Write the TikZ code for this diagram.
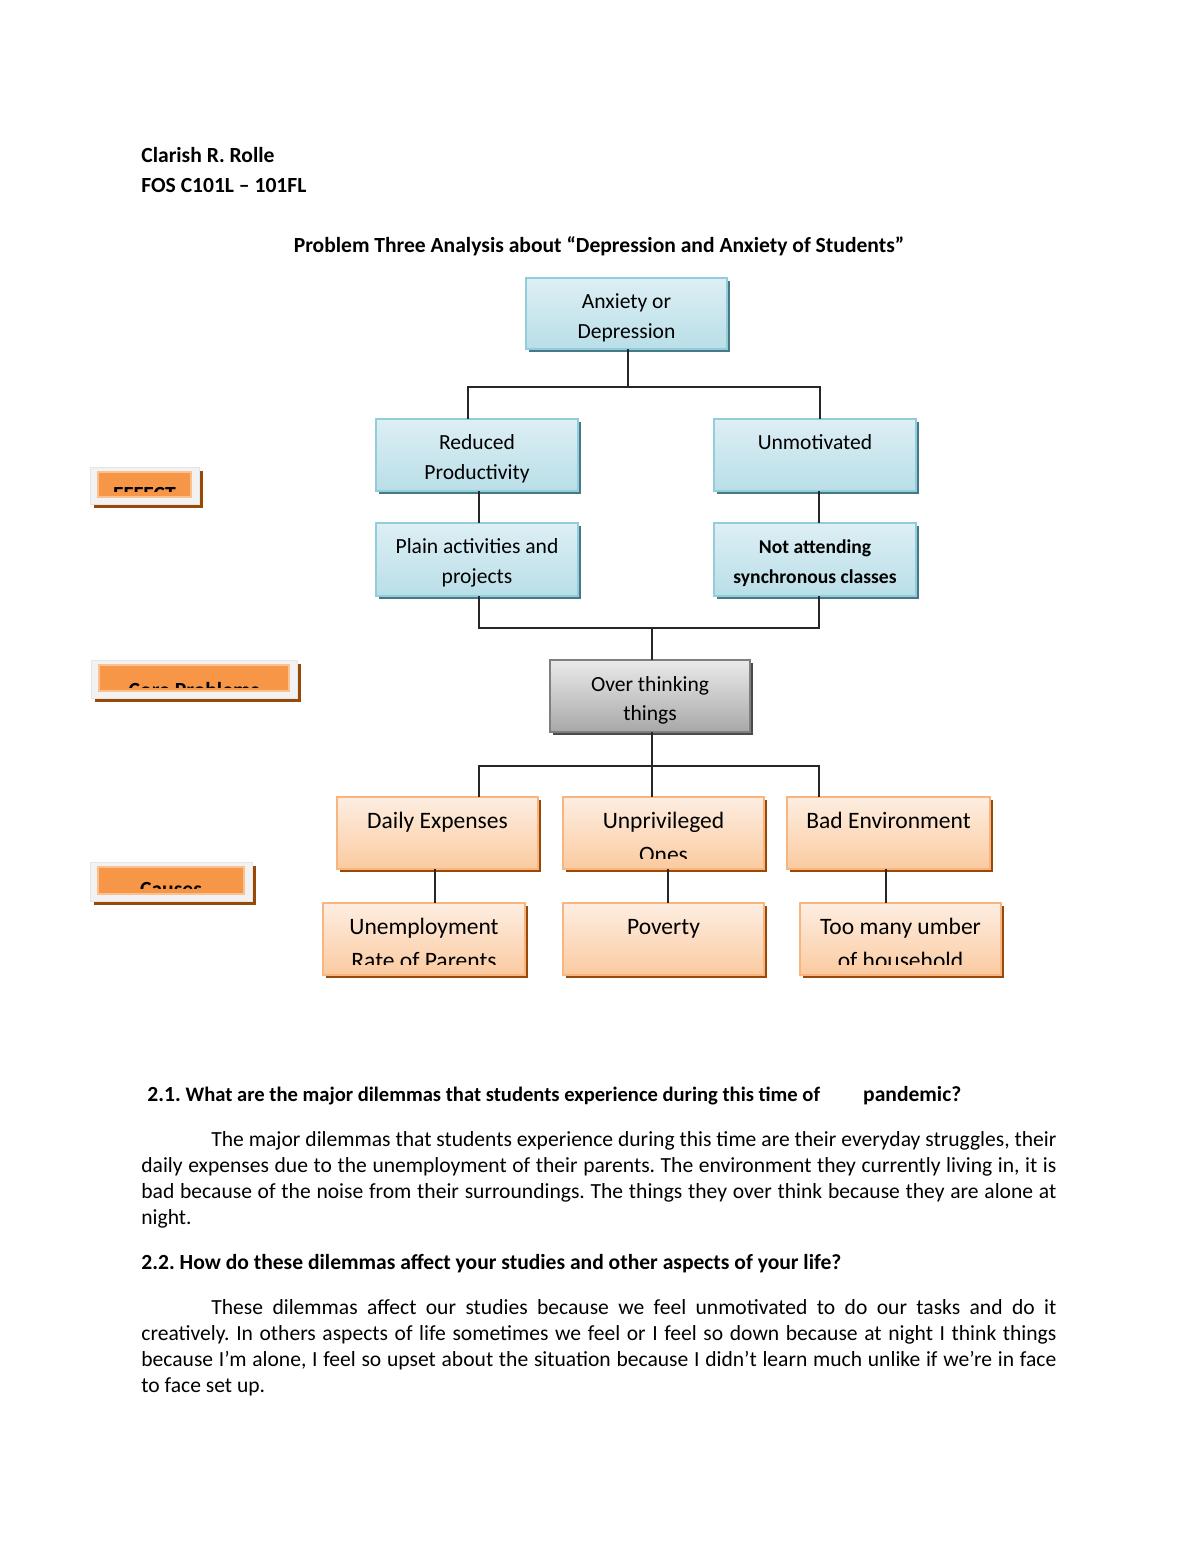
\documentclass[tikz,border=0pt]{standalone}
\usepackage{fontspec}
\setmainfont{Carlito}
\usetikzlibrary{calc}
\frenchspacing
\definecolor{blueshadow}{HTML}{467886}
\definecolor{blueborder}{HTML}{92CDDC}
\definecolor{bluetop}{HTML}{DDEFF4}
\definecolor{bluebot}{HTML}{B9DEE8}
\definecolor{orangeshadow}{HTML}{984807}
\definecolor{orangeborder}{HTML}{F9B580}
\definecolor{orangetop}{HTML}{FDEEE2}
\definecolor{orangebot}{HTML}{FBCAA0}
\definecolor{grayshadow}{HTML}{4A4A4A}
\definecolor{grayborder}{HTML}{7F7F7F}
\definecolor{graytop}{HTML}{EAEAEA}
\definecolor{graybot}{HTML}{A8A8A8}
\definecolor{labelouter}{HTML}{F2F2F2}
\definecolor{labelorange}{HTML}{F79646}
\definecolor{labelorangeborder}{HTML}{FAC08F}
\def\blueoffA{30}\def\blueoffB{60}\def\blueclip{0}
\def\grayoffA{31}\def\grayoffB{60}\def\grayclip{0}
\def\orangeoffA{31.5}\def\orangeoffB{65}\def\orangeclip{11}
\newcommand\mybox[8]{%
  \fill[#2shadow] ({#3+3},{#4+3}) rectangle ({#5+3},{#6+3});
  \node[#2box, minimum width={(#5-#3)*0.51pt}, minimum height={(#6-#4)*0.51pt}] (#1) at ({(#3+#5)/2},{(#4+#6)/2}) {};
  \begin{scope}
    \clip (#3,#4) rectangle (#5,{#6-\csname #2clip\endcsname});
    \node[#2text] at ({(#3+#5)/2},{#4+\csname #2offA\endcsname}) {#7};
    \node[#2text] at ({(#3+#5)/2},{#4+\csname #2offB\endcsname}) {#8};
  \end{scope}}
\newcommand\mylabel[9]{%
  \fill[orangeshadow] ({#2+4},{#3+4}) rectangle ({#4+4},{#5+4});
  \node[labelout, minimum width={(#4-#2)*0.51pt}, minimum height={(#5-#3)*0.51pt}] (#1) at ({(#2+#4)/2},{(#3+#5)/2}) {};
  \node[labelin, minimum width={(#4-#2-16)*0.51pt}, minimum height={(#5-#3-12)*0.51pt}] (#1in) at ({(#2+#4)/2},{(#3+#5)/2-1}) {};
  \begin{scope}
    \clip (#2,#3) rectangle (#4,#8);
    \node[labeltext] at ({(#2+#4)/2},#7) {#6};
  \end{scope}}
\tikzset{
  boxbase/.style={rectangle, inner sep=0pt, outer sep=0pt, line width=1.3pt},
  bluebox/.style={boxbase, draw=blueborder, top color=bluetop, bottom color=bluebot},
  orangebox/.style={boxbase, draw=orangeborder, top color=orangetop, bottom color=orangebot},
  graybox/.style={boxbase, draw=grayborder, top color=graytop, bottom color=graybot},
  bluetext/.style={anchor=base, inner sep=0pt, font=\fontsize{11}{13}\selectfont},
  graytext/.style={anchor=base, inner sep=0pt, font=\fontsize{11}{13}\selectfont},
  orangetext/.style={anchor=base, inner sep=0pt, font=\fontsize{12}{14}\selectfont},
  labelout/.style={rectangle, inner sep=0pt, outer sep=0pt, fill=labelouter, draw=white!90!black, line width=0.4pt},
  labelin/.style={rectangle, inner sep=0pt, outer sep=0pt, fill=labelorange, draw=labelorangeborder, line width=0.6pt},
  labeltext/.style={anchor=north, inner sep=0pt, font=\fontsize{11}{13}\selectfont\bfseries},
  conn/.style={draw=black!85, line width=0.75pt},
  plain/.style={anchor=base west, inner sep=0pt, font=\fontsize{11}{13.26}\selectfont},
}
\begin{document}
\begin{tikzpicture}[x=0.51pt,y=-0.51pt]
\fill[white] (0,0) rectangle (1200,1553);
\useasboundingbox (0,0) rectangle (1200,1553);

% header
\node[plain, font=\fontsize{11}{13.26}\selectfont\bfseries] (name) at (141,162.5) {Clarish R. Rolle};
\node[plain, font=\fontsize{11}{13.26}\selectfont\bfseries] (course) at (141,192.5) {FOS C101L – 101FL};
\node[anchor=base, inner sep=0pt, font=\fontsize{11}{13.26}\selectfont\bfseries] (title) at (599,253) {Problem Three Analysis about “Depression and Anxiety of Students”};

% diagram boxes
\mybox{a}{blue}{526}{278}{727}{349}{Anxiety or}{Depression}
\mybox{r}{blue}{376}{419}{578}{491}{Reduced}{Productivity}
\mybox{u}{blue}{714}{419}{916}{491}{Unmotivated}{}
\mybox{p}{blue}{376}{523}{578}{596}{Plain activities and}{projects}
\mybox{n}{blue}{714}{523}{916}{596}{\fontsize{10}{12}\selectfont\bfseries Not attending}{\fontsize{10}{12}\selectfont\bfseries synchronous classes}
\mybox{o}{gray}{550}{660}{750}{732}{Over thinking}{things}
\mybox{d}{orange}{337}{797}{538}{869}{Daily Expenses}{}
\mybox{up}{orange}{563}{797}{764}{869}{Unprivileged}{Ones}
\mybox{be}{orange}{787}{797}{990}{869}{Bad Environment}{}
\mybox{ue}{orange}{323}{903}{525}{975}{Unemployment}{Rate of Parents}
\mybox{pv}{orange}{563}{903}{764}{975}{Poverty}{}
\mybox{tm}{orange}{800}{903}{1001}{975}{Too many umber}{of household}

% junction coordinates
\coordinate (j1) at (628,387); \coordinate (j1l) at (468,387); \coordinate (j1r) at (820,387);
\coordinate (j2) at (652,628); \coordinate (j2l) at (479,628); \coordinate (j2r) at (819,628);
\coordinate (j3) at (652,766); \coordinate (j3l) at (479,766); \coordinate (j3r) at (819,766);
\coordinate (k1) at (479,0); \coordinate (k2) at (819,0);
\coordinate (k3) at (435,0); \coordinate (k4) at (668,0); \coordinate (k5) at (886,0);

% connectors
\draw[conn] (a.south -| j1) -- (j1);
\draw[conn] (r.north -| j1l) -- (j1l) -- (j1r) -- (u.north -| j1r);
\draw[conn] (r.south -| k1) -- (p.north -| k1);
\draw[conn] (u.south -| k2) -- (n.north -| k2);
\draw[conn] (p.south -| j2l) -- (j2l) -- (j2r) -- (n.south -| j2r);
\draw[conn] (j2) -- (o.north -| j2);
\draw[conn] (o.south -| j3) -- (j3);
\draw[conn] (d.north -| j3l) -- (j3l) -- (j3r) -- (be.north -| j3r);
\draw[conn] (j3) -- (up.north -| j3);
\draw[conn] (d.south -| k3) -- (ue.north -| k3);
\draw[conn] (up.south -| k4) -- (pv.north -| k4);
\draw[conn] (be.south -| k5) -- (tm.north -| k5);

% left labels
\mylabel{effect}{90}{467}{199}{504}{EFFECT}{487}{491}{}
\mylabel{core}{91}{660}{297}{698}{Core Problems}{682}{687}{}
\mylabel{causes}{90}{862}{252}{901}{Causes}{882}{888}{}

% questions and answers
\node[plain, font=\fontsize{11}{13.26}\selectfont\bfseries] (q1) at (147,1101) {2.1. {\fontsize{10.5}{13}\selectfont What are the major dilemmas that students experience during this time of}\hspace{22pt}pandemic?};
\node[plain] (ans1) at (141,1146) {\parbox[t]{466.65pt}{\hspace*{35.7pt}The major dilemmas that students experience during this time are their everyday struggles, their\linebreak daily expenses due to the unemployment of their parents. The environment they currently living in, it is\linebreak bad because of the noise from their surroundings. The things they over think because they are alone at\linebreak night.}};
\node[plain, font=\fontsize{11}{13.26}\selectfont\bfseries] (q2) at (141,1269) {2.2. How do these dilemmas affect your studies and other aspects of your life?};
\node[plain] (ans2) at (141,1314) {\parbox[t]{466.65pt}{\hspace*{35.7pt}These dilemmas affect our studies because we feel unmotivated to do our tasks and do it\linebreak creatively. In others aspects of life sometimes we feel or I feel so down because at night I think things\linebreak because I’m alone, I feel so upset about the situation because I didn’t learn much unlike if we’re in face\linebreak to face set up.}};
\end{tikzpicture}
\end{document}
